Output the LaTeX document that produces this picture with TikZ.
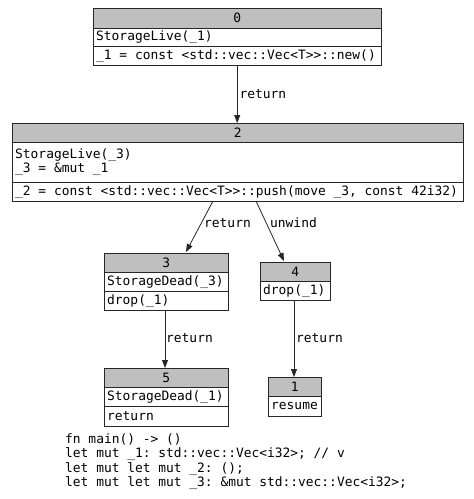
\documentclass[tikz,border=0pt]{standalone}
\usepackage{fontspec}
\newfontfamily\mono[WordSpace={1,0,0}]{DejaVu Sans Mono}
\usetikzlibrary{arrows.meta}
\begin{document}
\begin{tikzpicture}[x=1pt,y=-1pt,
  txt/.style={font=\mono\fontsize{12.9}{14.6}\selectfont\frenchspacing},
  hdr/.style={txt, draw=black!85, fill=black!25, anchor=north west, inner sep=0pt, minimum height=19pt},
  row/.style={txt, draw=black!85, anchor=north west, inner xsep=3pt, inner ysep=0pt, align=flush left},
  edge/.style={draw=black!85, line width=0.8pt, -{Triangle[length=8pt,width=6pt]}},
  lbl/.style={txt, anchor=west, inner sep=1pt}]
\useasboundingbox (0,0) rectangle (474,499);
% block 0
\node[hdr, minimum width=288pt, minimum height=20pt] (b0h) at (93,8) {0};
\node[row, minimum height=18pt, text width=282pt] (b0a) at (93,28) {StorageLive(\_1)};
\node[row, minimum height=19pt, text width=282pt] (b0b) at (93,46) {\_1 = const <std::vec::Vec<T>{}>::new()};
% block 2
\node[hdr, minimum width=451pt] (b2h) at (12,123) {2};
\node[row, minimum height=40pt, text width=445pt] (b2a) at (12,142) {StorageLive(\_3)\\\_3 = \&mut \_1};
\node[row, minimum height=19pt, text width=445pt] (b2b) at (12,182) {\_2 = const <std::vec::Vec<T>{}>::push(move \_3, const 42i32)};
% block 3
\node[hdr, minimum width=124pt] (b3h) at (104,253) {3};
\node[row, minimum height=19pt, text width=118pt] (b3a) at (104,272) {StorageDead(\_3)};
\node[row, minimum height=19pt, text width=118pt] (b3b) at (104,291) {drop(\_1)};
% block 4
\node[hdr, minimum width=70pt] (b4h) at (260,262) {4};
\node[row, minimum height=19pt, text width=64pt] (b4a) at (260,281) {drop(\_1)};
% block 5
\node[hdr, minimum width=124pt] (b5h) at (104,368) {5};
\node[row, minimum height=19pt, text width=118pt] (b5a) at (104,387) {StorageDead(\_1)};
\node[row, minimum height=20pt, text width=118pt] (b5b) at (104,406) {return};
% block 1
\node[hdr, minimum width=53pt] (b1h) at (268,377) {1};
\node[row, minimum height=20pt, text width=47pt] (b1a) at (268,396) {resume};
% edges
\draw[edge] (b0b.south) -- (b0b.south |- b2h.north) node[lbl, midway, xshift=1pt] {return};
\coordinate (s3) at (213,201);
\coordinate (s4) at (256,201);
\draw[edge] (s3) -- (186,252) coordinate (t3);
\node[lbl] (l3) at (203,223) {return};
\draw[edge] (s4) -- (284,261) coordinate (t4);
\node[lbl] (l4) at (269,223) {unwind};
\draw[edge] (165,310) -- (165,368) coordinate (t5);
\node[lbl] (l5) at (165,338) {return};
\draw[edge] (294,300) -- (294,377) coordinate (t1);
\node[lbl] (l1) at (295,338) {return};
% footer
\node[txt, anchor=north west, align=left, inner sep=0pt] (foot) at (65,433) {fn main() -> ()\\let mut \_1: std::vec::Vec<i32>; // v\\let mut let mut \_2: ();\\let mut let mut \_3: \&mut std::vec::Vec<i32>;};
\end{tikzpicture}
\end{document}
